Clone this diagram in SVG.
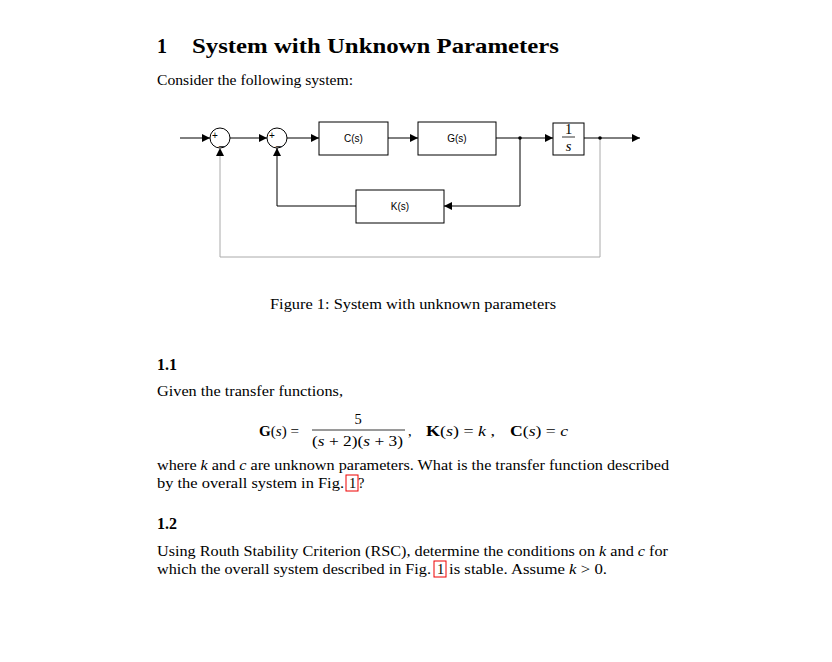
<svg xmlns="http://www.w3.org/2000/svg" width="832" height="662" viewBox="0 0 832 662">
<defs>
<style>
.t{font-family:"Liberation Serif",serif;font-size:14.5px;fill:#000}
.h{font-family:"Liberation Serif",serif;font-weight:bold;fill:#000}
.b{fill:#fff;stroke:#000;stroke-width:1}
.l{fill:none;stroke:#000;stroke-width:1}
.g{fill:none;stroke:#aaa;stroke-width:1}
.s{font-family:"Liberation Sans",sans-serif;font-size:10px;fill:#000}
.m{font-family:"Liberation Serif",serif;font-size:14.5px;fill:#000}
</style>
<marker id="a" markerWidth="8" markerHeight="8" refX="8" refY="4" orient="auto" markerUnits="userSpaceOnUse"><path d="M0,0L8,4L0,8z" fill="#000"/></marker>
</defs>
<rect width="832" height="662" fill="#fff"/>
<text class="h" x="157" y="53" font-size="20">1</text>
<text class="h" x="192" y="53" font-size="20" textLength="367" lengthAdjust="spacingAndGlyphs">System with Unknown Parameters</text>
<text class="t" x="157" y="85" textLength="196" lengthAdjust="spacingAndGlyphs">Consider the following system:</text>
<g id="connectors">
<path class="l" d="M180,138H210" marker-end="url(#a)"/>
<path class="l" d="M230,138H267" marker-end="url(#a)"/>
<path class="l" d="M287,138H319" marker-end="url(#a)"/>
<path class="l" d="M388,138H418" marker-end="url(#a)"/>
<path class="l" d="M496,138H553" marker-end="url(#a)"/>
<path class="l" d="M584,138H640" marker-end="url(#a)"/>
<path class="l" d="M520,138V206H444" marker-end="url(#a)"/>
<path class="l" d="M356,206H277V148" marker-end="url(#a)"/>
<path class="g" d="M600,138V257H220V156"/>
<path d="M216,156L220,148L224,156z" fill="#000"/>
<circle cx="520" cy="138" r="1.8" fill="#000"/>
<circle cx="600" cy="138" r="1.8" fill="#000"/>
</g>
<g id="sum1"><circle class="b" cx="220" cy="138" r="10"/><text class="s" x="212" y="139" font-size="9">+</text><text class="s" x="219" y="145" font-size="9">_</text></g>
<g id="sum2"><circle class="b" cx="277" cy="138" r="10"/><text class="s" x="269" y="139" font-size="9">+</text><text class="s" x="276" y="145" font-size="9">_</text></g>
<g id="C"><rect class="b" x="319" y="122" width="69" height="33"/><text class="s" x="353.5" y="142" text-anchor="middle">C(s)</text></g>
<g id="G"><rect class="b" x="418" y="122" width="78" height="33"/><text class="s" x="457" y="142" text-anchor="middle">G(s)</text></g>
<g id="I"><rect class="b" x="553" y="123" width="31" height="32"/><text class="m" x="568.5" y="134" text-anchor="middle" font-size="11">1</text><line x1="562" y1="137" x2="575" y2="137" stroke="#000" stroke-width="0.8"/><text class="m" x="568.5" y="151" text-anchor="middle" font-size="11" font-style="italic">s</text></g>
<g id="K"><rect class="b" x="356" y="190" width="88" height="33"/><text class="s" x="400" y="210" text-anchor="middle">K(s)</text></g>
<text class="t" x="270" y="309" textLength="286" lengthAdjust="spacingAndGlyphs">Figure 1: System with unknown parameters</text>
<text class="h" x="157" y="370" font-size="16">1.1</text>
<text class="t" x="157" y="396" textLength="186" lengthAdjust="spacingAndGlyphs">Given the transfer functions,</text>
<text class="m" x="259" y="436" textLength="40" lengthAdjust="spacingAndGlyphs"><tspan font-weight="bold">G</tspan>(<tspan font-style="italic">s</tspan>) =</text>
<text class="m" x="358" y="424" text-anchor="middle">5</text>
<line x1="312" y1="430" x2="405" y2="430" stroke="#000" stroke-width="0.8"/>
<text class="m" x="312" y="446" textLength="91" lengthAdjust="spacingAndGlyphs">(<tspan font-style="italic">s</tspan> + 2)(<tspan font-style="italic">s</tspan> + 3)</text>
<text class="m" x="408" y="436">,</text>
<text class="m" x="426" y="436" textLength="69" lengthAdjust="spacingAndGlyphs"><tspan font-weight="bold">K</tspan>(<tspan font-style="italic">s</tspan>) = <tspan font-style="italic">k</tspan> ,</text>
<text class="m" x="510" y="436" textLength="58" lengthAdjust="spacingAndGlyphs"><tspan font-weight="bold">C</tspan>(<tspan font-style="italic">s</tspan>) = <tspan font-style="italic">c</tspan></text>
<text class="t" x="157" y="470" textLength="512" lengthAdjust="spacingAndGlyphs">where <tspan font-style="italic">k</tspan> and <tspan font-style="italic">c</tspan> are unknown parameters. What is the transfer function described</text>
<text class="t" x="157" y="488" textLength="187" lengthAdjust="spacingAndGlyphs">by the overall system in Fig.</text>
<text class="t" x="349" y="488">1</text><text class="t" x="358" y="488">?</text>
<rect x="346" y="475" width="12" height="16" fill="none" stroke="#e00" stroke-width="1"/>
<text class="h" x="157" y="529" font-size="16">1.2</text>
<text class="t" x="157" y="556" textLength="511" lengthAdjust="spacingAndGlyphs">Using Routh Stability Criterion (RSC), determine the conditions on <tspan font-style="italic">k</tspan> and <tspan font-style="italic">c</tspan> for</text>
<text class="t" x="157" y="574" textLength="274" lengthAdjust="spacingAndGlyphs">which the overall system described in Fig.</text>
<text class="t" x="437" y="574">1</text>
<text class="t" x="449" y="574" textLength="158" lengthAdjust="spacingAndGlyphs">is stable. Assume <tspan font-style="italic">k</tspan> &gt; 0.</text>
<rect x="434" y="561" width="12" height="16" fill="none" stroke="#e00" stroke-width="1"/>
</svg>
